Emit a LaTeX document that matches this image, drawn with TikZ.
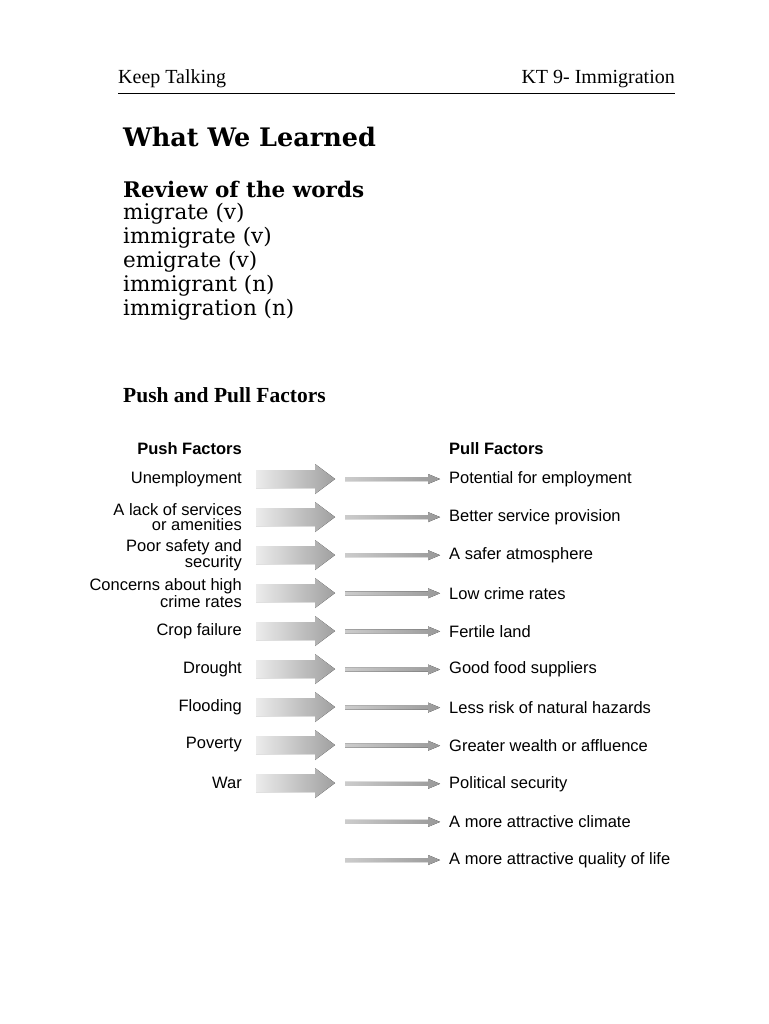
\documentclass[tikz,border=0pt]{standalone}
\usepackage{fontspec}
\setmainfont{DejaVu Serif}
\newfontfamily\timesfnt{Liberation Serif}
\newfontfamily\arialfnt{Liberation Sans}
\begin{document}
\begin{tikzpicture}[x=1pt,y=-1pt,
  hdr/.style={font=\timesfnt\fontsize{20}{22}\selectfont,inner sep=0pt},
  word/.style={font=\fontsize{21.5}{23}\selectfont,anchor=west,inner sep=0pt},
  pushl/.style={font=\arialfnt\fontsize{16.5}{15}\selectfont,anchor=east,align=right,inner sep=0pt},
  pulll/.style={font=\arialfnt\fontsize{16.5}{15}\selectfont,anchor=west,inner sep=0pt},
  big/.style={left color=gray!15,right color=gray!75,draw=none},
  thin/.style={left color=gray!40,right color=gray!80,draw=none}]
\useasboundingbox (0,0) rectangle (768,1024);
\node[hdr,anchor=west] (h1) at (118,79) {Keep Talking};
\node[hdr,anchor=east] (h2) at (675,79) {KT 9- Immigration};
\draw[line width=0.8pt] (118,93) -- (675,93);
\node[word,font=\bfseries\fontsize{25.5}{28}\selectfont] (t) at (123,137) {What We Learned};
\node[word,font=\bfseries\fontsize{21.5}{23}\selectfont] (r) at (123,189) {Review of the words};
\foreach \w [count=\i] in {migrate (v),immigrate (v),emigrate (v),immigrant (n),immigration (n)}
  \node[word] (w\i) at (123,{190+24*\i}) {\w};
\node[word,font=\timesfnt\bfseries\fontsize{21.5}{23}\selectfont] (pp) at (123,395) {Push and Pull Factors};
\node[pushl,font=\arialfnt\bfseries\fontsize{16.5}{15}\selectfont] (pushT) at (242,449) {Push Factors};
\node[pulll,font=\arialfnt\bfseries\fontsize{16.5}{15}\selectfont] (pullT) at (449,449) {Pull Factors};
\foreach \t [count=\i] in {Unemployment,{A lack of services\\or amenities},{Poor safety and\\security},{Concerns about high\\crime rates},Crop failure,Drought,Flooding,Poverty,War}{
  \pgfmathsetmacro\yy{479+38*(\i-1)}
  \node[pushl] (ps\i) at (242,\yy) {\t};
  \fill[big] (256,\yy-9) -- (315,\yy-9) -- (315,\yy-15) -- (335,\yy) -- (315,\yy+15) -- (315,\yy+9) -- (256,\yy+9) -- cycle;
}
\foreach \t [count=\i] in {Potential for employment,Better service provision,A safer atmosphere,Low crime rates,Fertile land,Good food suppliers,Less risk of natural hazards,Greater wealth or affluence,Political security,A more attractive climate,A more attractive quality of life}{
  \pgfmathsetmacro\yy{479+38.1*(\i-1)}
  \node[pulll] (pl\i) at (449,\yy) {\t};
  \fill[thin] (345,\yy-2) -- (428,\yy-2) -- (428,\yy-5) -- (440,\yy) -- (428,\yy+5) -- (428,\yy+2) -- (345,\yy+2) -- cycle;
}
\end{tikzpicture}
\end{document}
